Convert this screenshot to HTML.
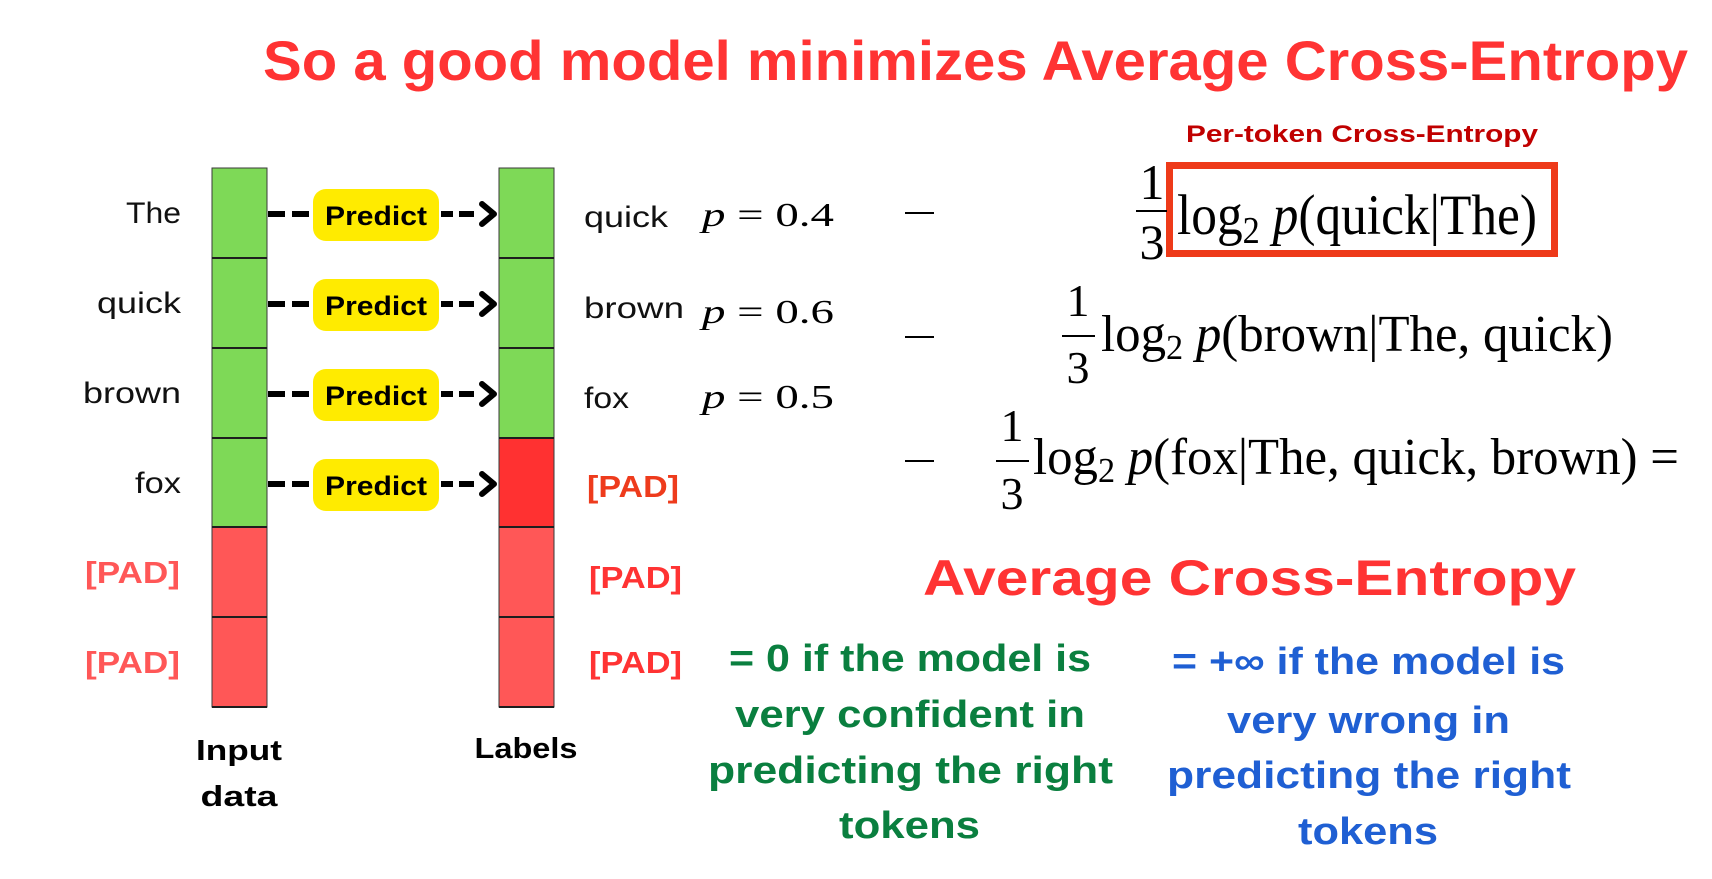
<!DOCTYPE html>
<html>
<head>
<meta charset="utf-8">
<style>
  html, body { margin:0; padding:0; background:#ffffff; }
  body { width:1712px; height:879px; overflow:hidden; }
  svg { display:block; }
  .sans { font-family:"Liberation Sans", "DejaVu Sans", sans-serif; }
  .serif { font-family:"Liberation Serif", "DejaVu Serif", serif; }
</style>
</head>
<body>
<svg width="1712" height="879" viewBox="0 0 1712 879" xmlns="http://www.w3.org/2000/svg">
  <rect x="0" y="0" width="1712" height="879" fill="#ffffff"/>

  <!-- Title -->
  <text class="sans" x="263" y="80" font-size="56" font-weight="bold" fill="#ff3333" textLength="1425" lengthAdjust="spacingAndGlyphs">So a good model minimizes Average Cross-Entropy</text>

  <!-- Per-token label -->
  <text class="sans" x="1186" y="142" font-size="24" font-weight="bold" fill="#c00000" textLength="352" lengthAdjust="spacingAndGlyphs">Per-token Cross-Entropy</text>

  <!-- Input column cells -->
  <g stroke="#3a3a3a" stroke-width="1">
    <rect x="212" y="168" width="55" height="90" fill="#7ed957"/>
    <rect x="212" y="258" width="55" height="90" fill="#7ed957"/>
    <rect x="212" y="348" width="55" height="90" fill="#7ed957"/>
    <rect x="212" y="438" width="55" height="89" fill="#7ed957"/>
    <rect x="212" y="527" width="55" height="90" fill="#ff5757"/>
    <rect x="212" y="617" width="55" height="90" fill="#ff5757"/>
  </g>
  <!-- Label column cells -->
  <g stroke="#3a3a3a" stroke-width="1">
    <rect x="499" y="168" width="55" height="90" fill="#7ed957"/>
    <rect x="499" y="258" width="55" height="90" fill="#7ed957"/>
    <rect x="499" y="348" width="55" height="90" fill="#7ed957"/>
    <rect x="499" y="438" width="55" height="89" fill="#ff3131"/>
    <rect x="499" y="527" width="55" height="90" fill="#ff5757"/>
    <rect x="499" y="617" width="55" height="90" fill="#ff5757"/>
  </g>
  <!-- separators -->
  <g stroke="#1e1e1e" stroke-width="2">
    <line x1="212" y1="258" x2="267" y2="258"/>
    <line x1="212" y1="348" x2="267" y2="348"/>
    <line x1="212" y1="438" x2="267" y2="438"/>
    <line x1="212" y1="527" x2="267" y2="527"/>
    <line x1="212" y1="617" x2="267" y2="617"/>
    <line x1="212" y1="707" x2="267" y2="707"/>
    <line x1="499" y1="258" x2="554" y2="258"/>
    <line x1="499" y1="348" x2="554" y2="348"/>
    <line x1="499" y1="438" x2="554" y2="438"/>
    <line x1="499" y1="527" x2="554" y2="527"/>
    <line x1="499" y1="617" x2="554" y2="617"/>
    <line x1="499" y1="707" x2="554" y2="707"/>
  </g>

  <!-- Left words -->
  <g class="sans" font-size="30" fill="#111" text-anchor="end">
    <text x="181" y="223" textLength="55" lengthAdjust="spacingAndGlyphs">The</text>
    <text x="181" y="313" textLength="84" lengthAdjust="spacingAndGlyphs">quick</text>
    <text x="181" y="403" textLength="98" lengthAdjust="spacingAndGlyphs">brown</text>
    <text x="181" y="493" textLength="46" lengthAdjust="spacingAndGlyphs">fox</text>
  </g>
  <g class="sans" font-size="31" font-weight="bold" fill="#ff5757" text-anchor="end">
    <text x="180" y="583" textLength="95" lengthAdjust="spacingAndGlyphs">[PAD]</text>
    <text x="180" y="673" textLength="95" lengthAdjust="spacingAndGlyphs">[PAD]</text>
  </g>

  <!-- Predict rows -->
  <g>
    <g stroke="#000" stroke-width="6" fill="none">
      <line x1="268" y1="214" x2="285" y2="214"/>
      <line x1="292" y1="214" x2="309" y2="214"/>
      <line x1="441" y1="214" x2="453" y2="214"/>
      <line x1="459" y1="214" x2="474" y2="214"/>
      <polyline points="482,204 494,214 482,224" stroke-linecap="round" stroke-linejoin="round"/>
    </g>
    <rect x="313" y="189" width="126" height="52" rx="13" fill="#ffeb00"/>
    <g stroke="#000" stroke-width="6" fill="none">
      <line x1="268" y1="304" x2="285" y2="304"/>
      <line x1="292" y1="304" x2="309" y2="304"/>
      <line x1="441" y1="304" x2="453" y2="304"/>
      <line x1="459" y1="304" x2="474" y2="304"/>
      <polyline points="482,294 494,304 482,314" stroke-linecap="round" stroke-linejoin="round"/>
    </g>
    <rect x="313" y="279" width="126" height="52" rx="13" fill="#ffeb00"/>
    <g stroke="#000" stroke-width="6" fill="none">
      <line x1="268" y1="394" x2="285" y2="394"/>
      <line x1="292" y1="394" x2="309" y2="394"/>
      <line x1="441" y1="394" x2="453" y2="394"/>
      <line x1="459" y1="394" x2="474" y2="394"/>
      <polyline points="482,384 494,394 482,404" stroke-linecap="round" stroke-linejoin="round"/>
    </g>
    <rect x="313" y="369" width="126" height="52" rx="13" fill="#ffeb00"/>
    <g stroke="#000" stroke-width="6" fill="none">
      <line x1="268" y1="484" x2="285" y2="484"/>
      <line x1="292" y1="484" x2="309" y2="484"/>
      <line x1="441" y1="484" x2="453" y2="484"/>
      <line x1="459" y1="484" x2="474" y2="484"/>
      <polyline points="482,474 494,484 482,494" stroke-linecap="round" stroke-linejoin="round"/>
    </g>
    <rect x="313" y="459" width="126" height="52" rx="13" fill="#ffeb00"/>

    <g class="sans" font-size="27" font-weight="bold" fill="#000">
      <text x="325" y="225" textLength="102" lengthAdjust="spacingAndGlyphs">Predict</text>
      <text x="325" y="315" textLength="102" lengthAdjust="spacingAndGlyphs">Predict</text>
      <text x="325" y="405" textLength="102" lengthAdjust="spacingAndGlyphs">Predict</text>
      <text x="325" y="495" textLength="102" lengthAdjust="spacingAndGlyphs">Predict</text>
    </g>
  </g>

  <!-- Right words -->
  <g class="sans" font-size="30" fill="#111">
    <text x="584" y="227" textLength="84" lengthAdjust="spacingAndGlyphs">quick</text>
    <text x="584" y="318" textLength="100" lengthAdjust="spacingAndGlyphs">brown</text>
    <text x="584" y="408" textLength="45" lengthAdjust="spacingAndGlyphs">fox</text>
  </g>
  <text class="sans" x="587" y="497" font-size="31" font-weight="bold" fill="#ee3b1c" textLength="92" lengthAdjust="spacingAndGlyphs">[PAD]</text>
  <g class="sans" font-size="31" font-weight="bold" fill="#ff3333">
    <text x="589" y="588" textLength="93" lengthAdjust="spacingAndGlyphs">[PAD]</text>
    <text x="589" y="673" textLength="93" lengthAdjust="spacingAndGlyphs">[PAD]</text>
  </g>

  <!-- probabilities -->
  <g class="serif" font-size="34" fill="#000">
    <text x="702" y="226" textLength="132" lengthAdjust="spacingAndGlyphs"><tspan font-style="italic">p</tspan> = 0.4</text>
    <text x="702" y="323" textLength="132" lengthAdjust="spacingAndGlyphs"><tspan font-style="italic">p</tspan> = 0.6</text>
    <text x="702" y="408" textLength="132" lengthAdjust="spacingAndGlyphs"><tspan font-style="italic">p</tspan> = 0.5</text>
  </g>

  <!-- minus signs -->
  <g stroke="#000" stroke-width="2">
    <line x1="905" y1="213" x2="934" y2="213"/>
    <line x1="905" y1="337" x2="934" y2="337"/>
    <line x1="905" y1="461" x2="934" y2="461"/>
  </g>

  <!-- Formula 1 -->
  <rect x="1169.5" y="165.5" width="385" height="88" fill="none" stroke="#ee3a19" stroke-width="7"/>
  <g class="serif" fill="#000" text-anchor="middle">
    <text x="1152" y="199" font-size="50">1</text>
    <text x="1152" y="259" font-size="50">3</text>
  </g>
  <line x1="1136" y1="211" x2="1167" y2="211" stroke="#000" stroke-width="2"/>
  <text class="serif" x="1177" y="234" font-size="57" fill="#000" textLength="360" lengthAdjust="spacingAndGlyphs">log<tspan font-size="38" dy="9">2</tspan><tspan dy="-9" font-style="italic"> p</tspan>(quick|The)</text>

  <!-- Formula 2 -->
  <g class="serif" fill="#000" text-anchor="middle">
    <text x="1078" y="316" font-size="46">1</text>
    <text x="1078" y="383" font-size="46">3</text>
  </g>
  <line x1="1062" y1="336" x2="1095" y2="336" stroke="#000" stroke-width="2"/>
  <text class="serif" x="1101" y="351" font-size="52" fill="#000" textLength="512" lengthAdjust="spacingAndGlyphs">log<tspan font-size="35" dy="8">2</tspan><tspan dy="-8" font-style="italic"> p</tspan>(brown|The, quick)</text>

  <!-- Formula 3 -->
  <g class="serif" fill="#000" text-anchor="middle">
    <text x="1012" y="441" font-size="46">1</text>
    <text x="1012" y="509" font-size="46">3</text>
  </g>
  <line x1="996" y1="461" x2="1029" y2="461" stroke="#000" stroke-width="2"/>
  <text class="serif" x="1033" y="474" font-size="52" fill="#000" textLength="646" lengthAdjust="spacingAndGlyphs">log<tspan font-size="35" dy="8">2</tspan><tspan dy="-8" font-style="italic"> p</tspan>(fox|The, quick, brown) =</text>

  <!-- Average Cross-Entropy -->
  <text class="sans" x="923" y="595" font-size="50" font-weight="bold" fill="#ff3333" textLength="653" lengthAdjust="spacingAndGlyphs">Average Cross-Entropy</text>

  <!-- Green text -->
  <g class="sans" font-size="38" font-weight="bold" fill="#0a7f3f">
    <text x="729" y="671" textLength="362" lengthAdjust="spacingAndGlyphs">= 0 if the model is</text>
    <text x="735" y="727" textLength="350" lengthAdjust="spacingAndGlyphs">very confident in</text>
    <text x="708" y="783" textLength="405" lengthAdjust="spacingAndGlyphs">predicting the right</text>
    <text x="839" y="838" textLength="141" lengthAdjust="spacingAndGlyphs">tokens</text>
  </g>

  <!-- Blue text -->
  <g class="sans" font-size="38" font-weight="bold" fill="#1f5fd3">
    <text x="1172" y="674" textLength="393" lengthAdjust="spacingAndGlyphs">= +∞ if the model is</text>
    <text x="1227" y="733" textLength="283" lengthAdjust="spacingAndGlyphs">very wrong in</text>
    <text x="1167" y="788" textLength="404" lengthAdjust="spacingAndGlyphs">predicting the right</text>
    <text x="1298" y="844" textLength="140" lengthAdjust="spacingAndGlyphs">tokens</text>
  </g>

  <!-- Column captions -->
  <g class="sans" font-size="29" font-weight="bold" fill="#000" text-anchor="middle">
    <text x="239" y="760" textLength="86" lengthAdjust="spacingAndGlyphs">Input</text>
    <text x="239" y="806" textLength="77" lengthAdjust="spacingAndGlyphs">data</text>
    <text x="526" y="758" textLength="103" lengthAdjust="spacingAndGlyphs">Labels</text>
  </g>
</svg>
</body>
</html>
